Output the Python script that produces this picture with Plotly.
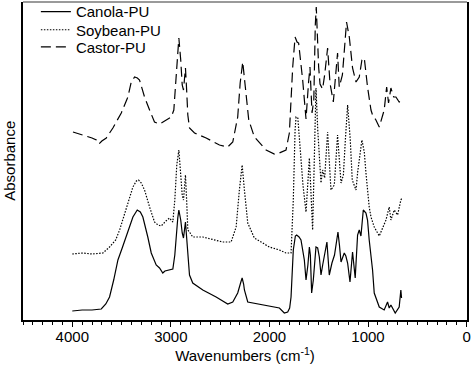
import plotly.graph_objects as go

# Canola-PU (solid)
canola_wn = [4000, 3900, 3800, 3706, 3660, 3622, 3580, 3537, 3490, 3453, 3420, 3385, 3341, 3310, 3284, 3260, 3234, 3199,
             3170, 3149, 3115, 3082, 3060, 3031, 2980, 2960, 2946, 2930, 2919, 2900, 2885, 2872, 2852, 2840, 2828, 2811,
             2778, 2676, 2541, 2423, 2372, 2322, 2290, 2277, 2262, 2254, 2220, 2102, 1967, 1899, 1849, 1815, 1795, 1781,
             1758, 1737, 1724, 1700, 1680, 1646, 1629, 1610, 1595, 1585, 1572, 1555, 1528, 1511, 1494, 1477, 1460, 1444,
             1417, 1393, 1366, 1340, 1319, 1305, 1290, 1274, 1241, 1225, 1207, 1183, 1157, 1130, 1106, 1089, 1072, 1048,
             1021, 1005, 988, 954, 937, 886, 836, 802, 785, 768, 724, 684, 667, 660]
canola_abs = [0.09, 0.10, 0.10, 0.11, 0.16, 0.23, 0.40, 0.60, 0.73, 0.83, 0.93, 1.03, 1.10, 1.08, 1.03, 0.94, 0.83, 0.67,
              0.60, 0.55, 0.52, 0.47, 0.49, 0.50, 0.51, 0.65, 0.87, 1.02, 1.10, 1.00, 0.87, 0.82, 0.98, 0.80, 0.60, 0.45,
              0.37, 0.30, 0.23, 0.16, 0.18, 0.27, 0.38, 0.42, 0.36, 0.30, 0.18, 0.16, 0.13, 0.12, 0.07, 0.08, 0.12, 0.23,
              0.70, 0.84, 0.85, 0.83, 0.80, 0.60, 0.40, 0.55, 0.73, 0.65, 0.27, 0.40, 0.73, 0.72, 0.63, 0.45, 0.55, 0.63,
              0.78, 0.45, 0.57, 0.65, 0.82, 0.88, 0.75, 0.58, 0.67, 0.64, 0.57, 0.38, 0.68, 0.42, 0.85, 0.90, 0.84, 1.10,
              1.07, 1.00, 0.80, 0.50, 0.27, 0.13, 0.10, 0.18, 0.12, 0.15, 0.07, 0.13, 0.30, 0.22]

# Soybean-PU (dotted)
soy_wn = [4000, 3900, 3800, 3689, 3622, 3560, 3520, 3480, 3436, 3385, 3350, 3328, 3300, 3267, 3216, 3166, 3130, 3098,
          3050, 3014, 2980, 2960, 2940, 2919, 2900, 2885, 2872, 2862, 2852, 2840, 2828, 2811, 2778, 2676, 2541, 2474,
          2389, 2338, 2305, 2277, 2254, 2220, 2153, 2001, 1899, 1832, 1781, 1758, 1740, 1730, 1712, 1690, 1660, 1629,
          1610, 1595, 1580, 1562, 1545, 1528, 1510, 1490, 1477, 1461, 1440, 1410, 1376, 1342, 1309, 1274, 1250, 1230,
          1207, 1180, 1160, 1122, 1105, 1062, 1038, 1021, 988, 970, 937, 886, 836, 818, 785, 768, 734, 700, 667, 656]
soy_abs = [0.66, 0.67, 0.66, 0.67, 0.73, 0.80, 0.90, 1.03, 1.17, 1.33, 1.39, 1.40, 1.37, 1.30, 1.13, 0.98, 0.95, 0.94,
           0.99, 1.02, 0.98, 1.20, 1.55, 1.70, 1.45, 1.25, 1.20, 1.35, 1.45, 1.20, 0.90, 0.88, 0.83, 0.83, 0.80, 0.78,
           0.78, 0.93, 1.30, 1.55, 1.30, 0.97, 0.82, 0.73, 0.70, 0.67, 0.67, 1.20, 1.90, 2.03, 2.02, 1.70, 1.35, 1.08,
           1.40, 1.62, 1.30, 0.90, 1.60, 2.32, 1.90, 1.50, 1.37, 1.50, 1.42, 1.88, 1.30, 1.35, 1.85, 1.37, 1.45, 1.80,
           2.15, 1.80, 1.40, 1.30, 1.48, 1.80, 1.68, 1.47, 1.13, 1.03, 0.93, 0.84, 0.97, 1.00, 1.13, 1.00, 1.10, 1.05,
           1.20, 1.22]

# Castor-PU (dashed)
castor_wn = [3993, 3920, 3858, 3800, 3756, 3730, 3700, 3655, 3588, 3540, 3503, 3436, 3402, 3368, 3340, 3318, 3267, 3216,
             3166, 3115, 3080, 3047, 2996, 2970, 2950, 2930, 2919, 2900, 2885, 2872, 2862, 2852, 2840, 2828, 2811, 2760,
             2642, 2507, 2423, 2372, 2322, 2297, 2271, 2244, 2210, 2153, 2034, 1950, 1900, 1832, 1798, 1764, 1740, 1720,
             1704, 1663, 1629, 1603, 1589, 1568, 1550, 1535, 1525, 1501, 1487, 1461, 1440, 1410, 1386, 1352, 1330, 1309,
             1292, 1260, 1240, 1218, 1190, 1157, 1122, 1089, 1062, 1038, 1005, 970, 954, 920, 886, 836, 811, 792, 768,
             740, 717, 684, 650]
castor_abs = [1.88, 1.86, 1.84, 1.82, 1.80, 1.76, 1.79, 1.82, 1.92, 2.00, 2.07, 2.23, 2.38, 2.43, 2.42, 2.40, 2.23, 2.10,
              1.98, 1.96, 1.98, 2.00, 2.03, 2.10, 2.40, 2.70, 2.82, 2.60, 2.35, 2.30, 2.45, 2.52, 2.30, 2.05, 1.92, 1.87,
              1.82, 1.75, 1.73, 1.78, 2.03, 2.37, 2.58, 2.33, 2.00, 1.83, 1.70, 1.66, 1.67, 1.70, 1.87, 2.53, 2.83, 2.78,
              2.77, 2.40, 2.01, 2.38, 2.53, 2.07, 2.20, 2.95, 3.13, 2.53, 2.36, 2.31, 2.45, 2.72, 2.37, 2.18, 2.40, 2.67,
              2.33, 2.45, 2.70, 2.98, 2.83, 2.52, 2.38, 2.43, 2.60, 2.62, 2.33, 2.10, 2.05, 2.00, 1.93, 2.10, 2.33, 2.17,
              2.32, 2.23, 2.23, 2.18, 2.22]

x_ticks = [4000, 3000, 2000, 1000, 0]

FONT = "Liberation Sans, Arial, Helvetica, sans-serif"

fig = go.Figure()
fig.add_trace(go.Scatter(x=canola_wn, y=canola_abs, mode="lines", name="Canola-PU", legend="legend",
                         line=dict(color="#000000", width=1.2)))
fig.add_trace(go.Scatter(x=soy_wn, y=soy_abs, mode="lines", name="Soybean-PU", legend="legend2",
                         line=dict(color="#000000", width=1.2, dash="1.5px,1.5px")))
fig.add_trace(go.Scatter(x=castor_wn, y=castor_abs, mode="lines", name="Castor-PU", legend="legend3",
                         line=dict(color="#000000", width=1.2, dash="10px,5px")))

leg_common = dict(x=0.029, xanchor="left", yanchor="middle", bgcolor="rgba(0,0,0,0)",
                  font=dict(size=15, family=FONT), borderwidth=0)

fig.update_layout(
    width=474, height=379,
    margin=dict(l=23, r=7, t=2, b=59, autoexpand=False),
    paper_bgcolor="white", plot_bgcolor="white",
    font=dict(family=FONT, size=15, color="#000000"),
    showlegend=True,
    legend=dict(y=0.969, **leg_common),
    legend2=dict(y=0.912, **leg_common),
    legend3=dict(y=0.858, **leg_common),
    annotations=[dict(text="Absorbance", xref="paper", yref="paper", x=-0.032, y=0.5,
                      xanchor="center", yanchor="middle", textangle=-90, showarrow=False,
                      font=dict(size=15))],
    shapes=[dict(type="line", xref="paper", yref="paper", x0=0, x1=1, y0=1, y1=1,
                 line=dict(color="#9a9a9a", width=2))],
)
fig.update_xaxes(
    range=[4500, -4], tickvals=x_ticks, ticktext=[str(v) for v in x_ticks],
    ticks="outside", ticklen=5, tickwidth=1, tickcolor="#000",
    minor=dict(dtick=100, ticks="outside", ticklen=3, tickcolor="#000", showgrid=False),
    showline=True, linecolor="#000", linewidth=1.5, mirror=False, showgrid=False, zeroline=False,
    tickfont=dict(size=15), automargin=False, ticklabeloverflow="allow", ticklabelstandoff=-3,
    title=dict(text="Wavenumbers (cm<sup>-1</sup>)", font=dict(size=15), standoff=4),
)
fig.update_yaxes(
    range=[0, 3.18], showticklabels=False, ticks="", automargin=False,
    showline=True, linecolor="#000", linewidth=1.5, mirror=True, showgrid=False, zeroline=False,
)

fig.write_html("out.html", config={"displayModeBar": False},
               post_script="document.body.style.margin='0';document.body.style.padding='0';")
